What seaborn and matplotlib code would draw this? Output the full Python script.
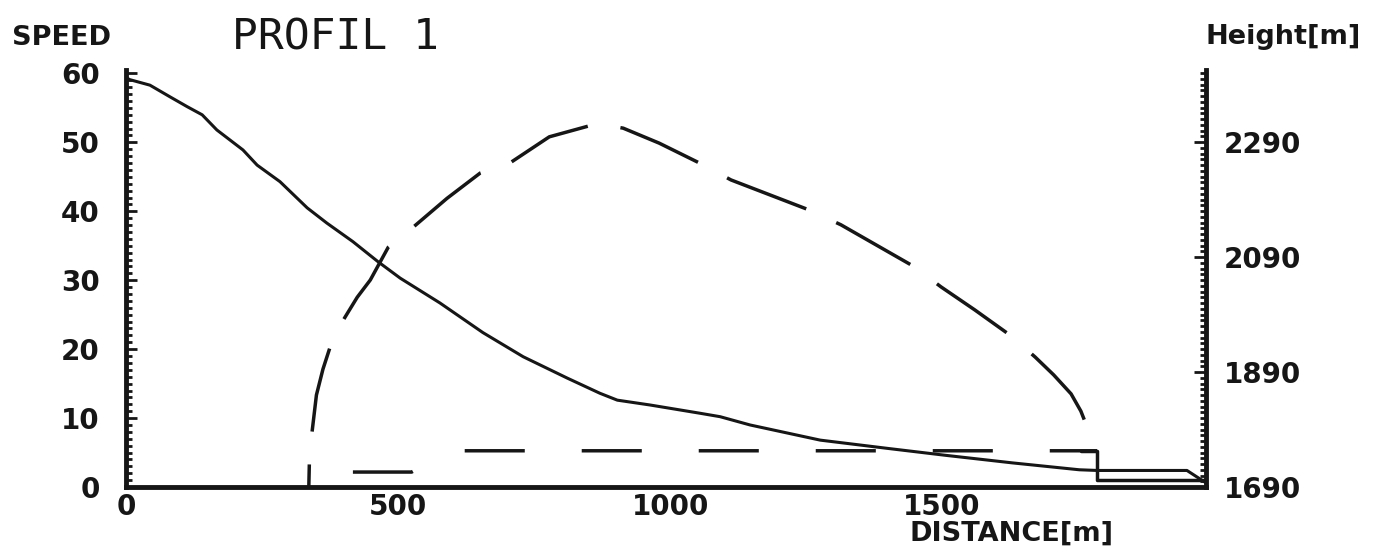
import numpy as np
import pandas as pd
import matplotlib
matplotlib.use("Agg")
import matplotlib.pyplot as plt
from matplotlib.ticker import MultipleLocator, FixedLocator
import seaborn as sns

# speed along the profile (left axis)
speed_dist = [0, 7, 44, 81, 112, 140, 167, 215, 241, 283, 333, 369, 417, 463, 504, 577, 656, 730,
              811, 871, 903, 963, 1055, 1092, 1147, 1276, 1400, 1506, 1629, 1752, 1785, 1950, 1985]
speed_val = [59.4, 59.1, 58.3, 56.6, 55.2, 54.0, 51.8, 48.9, 46.7, 44.3, 40.5, 38.3, 35.6, 32.7, 30.3, 26.7, 22.4, 18.9,
             15.8, 13.6, 12.6, 11.9, 10.7, 10.2, 9.0, 6.8, 5.6, 4.6, 3.5, 2.5, 2.4, 2.4, 0.6]

# glacier surface (right axis)
surf_dist = [336, 337, 342, 350, 362, 375, 388, 403, 425, 449, 482, 528, 590, 651, 708, 778, 851, 880, 914,
             980, 1055, 1112, 1255, 1314, 1449, 1498, 1560, 1625, 1671, 1705, 1737, 1755, 1765, 1772]
surf_height = [1690, 1732, 1786, 1850, 1895, 1933, 1962, 1986, 2020, 2050, 2107, 2142, 2192, 2236, 2255, 2299, 2318, 2320, 2314,
               2288, 2253, 2224, 2172, 2146, 2073, 2038, 1998, 1954, 1916, 1885, 1852, 1822, 1798, 1780]

# bed line (right axis), dashed part and the closing step at the snout
bed_dist = [336, 525, 600, 1785]
bed_height = [1716, 1716, 1753, 1753]
bed_end_dist = [1755, 1785, 1785, 1985]
bed_end_height = [1753, 1753, 1703, 1703]

x_ticks = [0, 500, 1000, 1500]
speed_ticks = [0, 10, 20, 30, 40, 50, 60]
height_ticks = [1690, 1890, 2090, 2290]

sns.set_style("white")
plt.rcParams['font.family'] = ['DejaVu Sans']
ink = '#161616'

fig = plt.figure(figsize=(14, 5.56), dpi=100)
fig.patch.set_facecolor('white')
ax = fig.add_axes([126 / 1400, 1 - 487 / 556, 1080 / 1400, 417 / 556])
ax2 = ax.twinx()

speed_df = pd.DataFrame({'dist': speed_dist, 'speed': speed_val})
surf_df = pd.DataFrame({'dist': surf_dist, 'height': surf_height})
bed_df = pd.DataFrame({'dist': bed_dist, 'height': bed_height})
bed_end_df = pd.DataFrame({'dist': bed_end_dist, 'height': bed_end_height})

sns.lineplot(data=speed_df, x='dist', y='speed', ax=ax, color=ink, linewidth=2.2,
             sort=False, estimator=None)
sns.lineplot(data=surf_df, x='dist', y='height', ax=ax2, color=ink, linewidth=2.5,
             sort=False, estimator=None, linestyle=(18, (24.5, 9.5)))
sns.lineplot(data=bed_df, x='dist', y='height', ax=ax2, color=ink, linewidth=2.5,
             sort=False, estimator=None, linestyle=(21, (17.3, 16.4)))
sns.lineplot(data=bed_end_df, x='dist', y='height', ax=ax2, color=ink, linewidth=2.5,
             sort=False, estimator=None)

ax.set_xlim(0, 1985)
ax.set_ylim(0, 60.5)
ax2.set_ylim(1690, 1690 + 417 / 0.575)

for a in (ax, ax2):
    a.set_xlabel('')
    a.set_ylabel('')
    a.spines['top'].set_visible(False)
    for s in ('left', 'right', 'bottom'):
        a.spines[s].set_color(ink)
        a.spines[s].set_linewidth(3.5)
ax.spines['right'].set_visible(False)
ax2.spines['left'].set_visible(False)
ax2.spines['bottom'].set_visible(False)

tick_font = dict(fontsize=20, fontweight='bold', color=ink)

ax.xaxis.set_major_locator(FixedLocator(x_ticks))
ax.xaxis.set_minor_locator(MultipleLocator(100))
ax.set_xticklabels([str(t) for t in x_ticks], **tick_font)
ax.yaxis.set_major_locator(FixedLocator(speed_ticks))
ax.yaxis.set_minor_locator(MultipleLocator(1))
ax.set_yticklabels([str(t) for t in speed_ticks], **tick_font)
ax2.yaxis.set_major_locator(FixedLocator(height_ticks))
ax2.yaxis.set_minor_locator(MultipleLocator(10))
ax2.set_yticklabels([str(t) for t in height_ticks], **tick_font)

ax.tick_params(axis='x', which='major', direction='in', length=11, width=2, color=ink, pad=4)
ax.tick_params(axis='x', which='minor', direction='in', length=6, width=2, color=ink)
ax.tick_params(axis='y', which='major', direction='in', length=8, width=2, color=ink, pad=19)
ax.tick_params(axis='y', which='minor', direction='in', length=4, width=2, color=ink)
ax2.tick_params(axis='y', which='major', direction='in', length=9, width=2, color=ink, pad=13)
ax2.tick_params(axis='y', which='minor', direction='in', length=4, width=2, color=ink)

fig.text(12 / 1400, 1 - 38 / 556, 'SPEED', fontsize=19.5, fontweight='bold', color=ink, va='center', ha='left')
fig.text(232 / 1400, 1 - 37 / 556, 'PROFIL 1', fontsize=31, family='DejaVu Sans Mono', color=ink, va='center', ha='left')
fig.text(1205 / 1400, 1 - 37 / 556, 'Height[m]', fontsize=19.5, fontweight='bold', color=ink, va='center', ha='left')
fig.text(910 / 1400, 1 - 534 / 556, 'DISTANCE[m]', fontsize=19.5, fontweight='bold', color=ink, va='center', ha='left')

fig.savefig('out.png', dpi=100, facecolor='white')
